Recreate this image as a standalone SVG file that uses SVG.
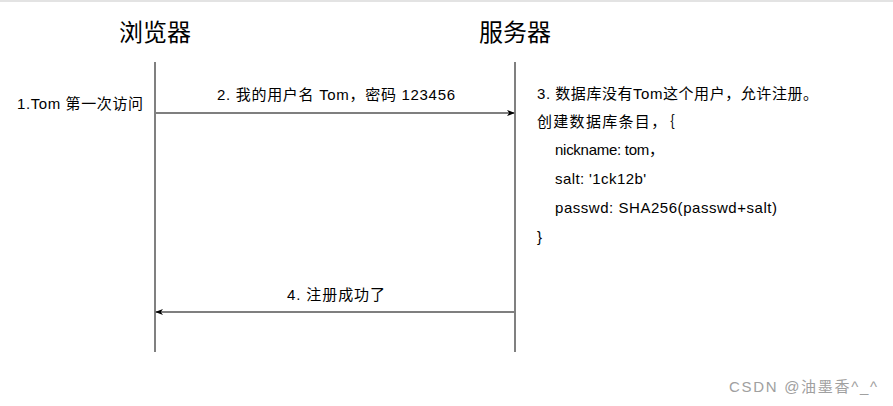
<svg xmlns="http://www.w3.org/2000/svg" width="893" height="406" viewBox="0 0 893 406">
<style>
text{font-family:"Liberation Sans","Noto Sans CJK SC",Arial,sans-serif;fill:#000}
.title{font-size:24px;text-anchor:middle}
.lbl{font-size:15px}
.mid{text-anchor:middle}
.life{stroke:#808080;stroke-width:2;fill:none}
.msg{stroke:#000;stroke-width:1.2;fill:none}
.wm{font-size:15px;fill:#a0a0a0}
</style>
<defs>
<marker id="ah" viewBox="0 0 10 10" refX="9" refY="5" markerWidth="8" markerHeight="8" markerUnits="userSpaceOnUse" orient="auto">
<path d="M0,1 L10,5 L0,9 L3,5 Z" fill="#000"/>
</marker>
</defs>
<rect width="893" height="406" fill="#fff"/>
<line x1="0" y1="1" x2="893" y2="1" stroke="#e3e3e3" stroke-width="2"/>
<g id="browser">
<text class="title" x="155" y="41">浏览器</text>
<line class="life" x1="155" y1="62" x2="155" y2="352"/>
</g>
<g id="server">
<text class="title" x="515" y="41">服务器</text>
<line class="life" x1="515" y1="62" x2="515" y2="352"/>
</g>
<g id="note-left">
<text class="lbl" x="17" y="109" textLength="126" lengthAdjust="spacing">1.Tom 第一次访问</text>
</g>
<g id="note-right">
<text class="lbl" x="537" y="99" textLength="281" lengthAdjust="spacing">3. 数据库没有Tom这个用户，允许注册。</text>
<text class="lbl" x="537" y="127" textLength="138" lengthAdjust="spacing">创建数据库条目，｛</text>
<text class="lbl" x="555" y="155" textLength="109" lengthAdjust="spacing">nickname: tom，</text>
<text class="lbl" x="555" y="184" textLength="91" lengthAdjust="spacing">salt: '1ck12b'</text>
<text class="lbl" x="555" y="213" textLength="222" lengthAdjust="spacing">passwd: SHA256(passwd+salt)</text>
<text class="lbl" x="537" y="242">}</text>
</g>
<g id="connectors">
<line class="msg" x1="156" y1="113" x2="514" y2="113" marker-end="url(#ah)"/>
<text class="lbl" x="217" y="100" textLength="238" lengthAdjust="spacing">2. 我的用户名 Tom，密码 123456</text>
<line class="msg" x1="514" y1="312" x2="156" y2="312" marker-end="url(#ah)"/>
<text class="lbl" x="287" y="300" textLength="98" lengthAdjust="spacing">4. 注册成功了</text>
</g>
<text class="wm" x="729" y="392" textLength="148" lengthAdjust="spacing">CSDN @油墨香^_^</text>
</svg>
